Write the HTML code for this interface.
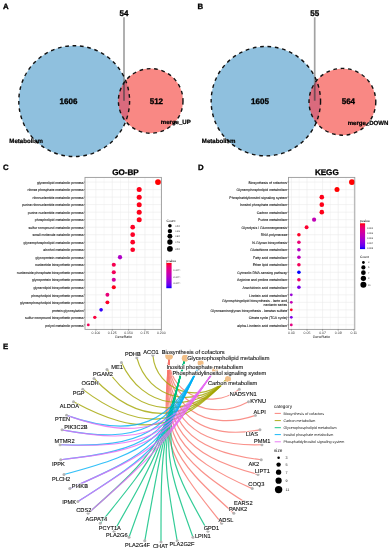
<!DOCTYPE html>
<html><head><meta charset="utf-8"><title>Figure</title>
<style>html,body{margin:0;padding:0;background:#fff;}svg{display:block;filter:blur(0.25px);}</style></head>
<body><svg width="391" height="550" viewBox="0 0 391 550" font-family="Liberation Sans, Arial, sans-serif" text-rendering="geometricPrecision">
<rect width="391" height="550" fill="#fff"/>
<text x="2.90" y="8.80" font-size="7.8" font-weight="bold" text-anchor="start" fill="#000" stroke="#000" stroke-width="0.32">A</text>
<text x="197.60" y="8.70" font-size="7.8" font-weight="bold" text-anchor="start" fill="#000" stroke="#000" stroke-width="0.32">B</text>
<text x="2.90" y="170.30" font-size="7.8" font-weight="bold" text-anchor="start" fill="#000" stroke="#000" stroke-width="0.32">C</text>
<text x="197.90" y="170.30" font-size="7.8" font-weight="bold" text-anchor="start" fill="#000" stroke="#000" stroke-width="0.32">D</text>
<text x="3.00" y="349.20" font-size="7.8" font-weight="bold" text-anchor="start" fill="#000" stroke="#000" stroke-width="0.32">E</text>
<clipPath id="clipA"><circle cx="74.2" cy="101.1" r="55.4"/></clipPath>
<clipPath id="clipLA"><circle cx="150.7" cy="100.9" r="32.3" clip-path="url(#clipA)"/></clipPath>
<circle cx="74.2" cy="101.1" r="55.4" fill="#8fc0de"/>
<circle cx="150.7" cy="100.9" r="32.3" fill="#f98884"/>
<circle cx="150.7" cy="100.9" r="32.3" fill="#da6a7d" clip-path="url(#clipA)"/>
<line x1="124" y1="17.3" x2="124" y2="100.7" stroke="#7a7a7a" stroke-opacity="0.7" stroke-width="1.7"/>
<line x1="124" y1="17.3" x2="124" y2="100.7" stroke="#5a2030" stroke-opacity="0.5" stroke-width="1.7" clip-path="url(#clipLA)"/>
<circle cx="74.2" cy="101.1" r="55.4" fill="none" stroke="#111" stroke-width="1.4" stroke-dasharray="3.7 3.7"/>
<circle cx="150.7" cy="100.9" r="32.3" fill="none" stroke="#111" stroke-width="1.4" stroke-dasharray="3.7 3.7"/>
<text x="124.00" y="16.10" font-size="8" font-weight="bold" text-anchor="middle" fill="#000" stroke="#000" stroke-width="0.32">54</text>
<text x="68.50" y="104.00" font-size="8" font-weight="bold" text-anchor="middle" fill="#000" stroke="#000" stroke-width="0.32">1606</text>
<text x="156.40" y="104.00" font-size="8" font-weight="bold" text-anchor="middle" fill="#000" stroke="#000" stroke-width="0.32">512</text>
<text x="175.80" y="124.00" font-size="6.05" font-weight="bold" text-anchor="middle" fill="#000" stroke="#000" stroke-width="0.22">merge_UP</text>
<text x="26.10" y="143.00" font-size="6.1" font-weight="bold" text-anchor="middle" fill="#000" stroke="#000" stroke-width="0.22">Metabolism</text>
<clipPath id="clipB"><circle cx="265.85" cy="101.2" r="54.7"/></clipPath>
<clipPath id="clipLB"><circle cx="342.4" cy="101.8" r="33.4" clip-path="url(#clipB)"/></clipPath>
<circle cx="265.85" cy="101.2" r="54.7" fill="#8fc0de"/>
<circle cx="342.4" cy="101.8" r="33.4" fill="#f98884"/>
<circle cx="342.4" cy="101.8" r="33.4" fill="#da6a7d" clip-path="url(#clipB)"/>
<line x1="314.7" y1="17.3" x2="314.7" y2="100.7" stroke="#7a7a7a" stroke-opacity="0.7" stroke-width="1.7"/>
<line x1="314.7" y1="17.3" x2="314.7" y2="100.7" stroke="#5a2030" stroke-opacity="0.5" stroke-width="1.7" clip-path="url(#clipLB)"/>
<circle cx="265.85" cy="101.2" r="54.7" fill="none" stroke="#111" stroke-width="1.4" stroke-dasharray="3.7 3.7"/>
<circle cx="342.4" cy="101.8" r="33.4" fill="none" stroke="#111" stroke-width="1.4" stroke-dasharray="3.7 3.7"/>
<text x="314.70" y="16.10" font-size="8" font-weight="bold" text-anchor="middle" fill="#000" stroke="#000" stroke-width="0.32">55</text>
<text x="260.00" y="104.00" font-size="8" font-weight="bold" text-anchor="middle" fill="#000" stroke="#000" stroke-width="0.32">1605</text>
<text x="348.40" y="104.00" font-size="8" font-weight="bold" text-anchor="middle" fill="#000" stroke="#000" stroke-width="0.32">564</text>
<text x="368.00" y="124.60" font-size="6.05" font-weight="bold" text-anchor="middle" fill="#000" stroke="#000" stroke-width="0.22">merge_DOWN</text>
<text x="218.60" y="143.00" font-size="6.1" font-weight="bold" text-anchor="middle" fill="#000" stroke="#000" stroke-width="0.22">Metabolism</text>
<rect x="85.0" y="177.4" width="76.4" height="151.99999999999997" fill="#fff"/>
<line x1="87.72" y1="177.4" x2="87.72" y2="329.4" stroke="#ebebeb" stroke-width="0.35"/>
<line x1="104.08" y1="177.4" x2="104.08" y2="329.4" stroke="#ebebeb" stroke-width="0.35"/>
<line x1="120.43" y1="177.4" x2="120.43" y2="329.4" stroke="#ebebeb" stroke-width="0.35"/>
<line x1="136.78" y1="177.4" x2="136.78" y2="329.4" stroke="#ebebeb" stroke-width="0.35"/>
<line x1="153.12" y1="177.4" x2="153.12" y2="329.4" stroke="#ebebeb" stroke-width="0.35"/>
<line x1="95.90" y1="177.4" x2="95.90" y2="329.4" stroke="#ebebeb" stroke-width="0.6"/>
<line x1="112.25" y1="177.4" x2="112.25" y2="329.4" stroke="#ebebeb" stroke-width="0.6"/>
<line x1="128.60" y1="177.4" x2="128.60" y2="329.4" stroke="#ebebeb" stroke-width="0.6"/>
<line x1="144.95" y1="177.4" x2="144.95" y2="329.4" stroke="#ebebeb" stroke-width="0.6"/>
<line x1="161.30" y1="177.4" x2="161.30" y2="329.4" stroke="#ebebeb" stroke-width="0.6"/>
<line x1="85.0" y1="182.10" x2="161.4" y2="182.10" stroke="#ebebeb" stroke-width="0.6"/>
<line x1="85.0" y1="189.61" x2="161.4" y2="189.61" stroke="#ebebeb" stroke-width="0.6"/>
<line x1="85.0" y1="197.13" x2="161.4" y2="197.13" stroke="#ebebeb" stroke-width="0.6"/>
<line x1="85.0" y1="204.64" x2="161.4" y2="204.64" stroke="#ebebeb" stroke-width="0.6"/>
<line x1="85.0" y1="212.16" x2="161.4" y2="212.16" stroke="#ebebeb" stroke-width="0.6"/>
<line x1="85.0" y1="219.67" x2="161.4" y2="219.67" stroke="#ebebeb" stroke-width="0.6"/>
<line x1="85.0" y1="227.19" x2="161.4" y2="227.19" stroke="#ebebeb" stroke-width="0.6"/>
<line x1="85.0" y1="234.70" x2="161.4" y2="234.70" stroke="#ebebeb" stroke-width="0.6"/>
<line x1="85.0" y1="242.22" x2="161.4" y2="242.22" stroke="#ebebeb" stroke-width="0.6"/>
<line x1="85.0" y1="249.73" x2="161.4" y2="249.73" stroke="#ebebeb" stroke-width="0.6"/>
<line x1="85.0" y1="257.25" x2="161.4" y2="257.25" stroke="#ebebeb" stroke-width="0.6"/>
<line x1="85.0" y1="264.76" x2="161.4" y2="264.76" stroke="#ebebeb" stroke-width="0.6"/>
<line x1="85.0" y1="272.28" x2="161.4" y2="272.28" stroke="#ebebeb" stroke-width="0.6"/>
<line x1="85.0" y1="279.79" x2="161.4" y2="279.79" stroke="#ebebeb" stroke-width="0.6"/>
<line x1="85.0" y1="287.31" x2="161.4" y2="287.31" stroke="#ebebeb" stroke-width="0.6"/>
<line x1="85.0" y1="294.82" x2="161.4" y2="294.82" stroke="#ebebeb" stroke-width="0.6"/>
<line x1="85.0" y1="302.34" x2="161.4" y2="302.34" stroke="#ebebeb" stroke-width="0.6"/>
<line x1="85.0" y1="309.86" x2="161.4" y2="309.86" stroke="#ebebeb" stroke-width="0.6"/>
<line x1="85.0" y1="317.37" x2="161.4" y2="317.37" stroke="#ebebeb" stroke-width="0.6"/>
<line x1="85.0" y1="324.88" x2="161.4" y2="324.88" stroke="#ebebeb" stroke-width="0.6"/>
<circle cx="158.0" cy="182.10" r="2.90" fill="#ff0000"/>
<circle cx="139.2" cy="189.61" r="2.50" fill="#fe0019"/>
<circle cx="139.2" cy="197.13" r="2.50" fill="#fe0019"/>
<circle cx="139.2" cy="204.64" r="2.50" fill="#fe0019"/>
<circle cx="139.2" cy="212.16" r="2.50" fill="#fe0019"/>
<circle cx="139.2" cy="219.67" r="2.50" fill="#fe0019"/>
<circle cx="132.7" cy="227.19" r="2.35" fill="#fd0027"/>
<circle cx="132.7" cy="234.70" r="2.35" fill="#fd0027"/>
<circle cx="132.7" cy="242.22" r="2.35" fill="#fd0027"/>
<circle cx="132.7" cy="249.73" r="2.35" fill="#fd0027"/>
<circle cx="120.0" cy="257.25" r="2.15" fill="#af00c7"/>
<circle cx="113.8" cy="264.76" r="2.05" fill="#f60050"/>
<circle cx="113.8" cy="272.28" r="2.05" fill="#f30059"/>
<circle cx="113.8" cy="279.79" r="2.05" fill="#d300a0"/>
<circle cx="113.8" cy="287.31" r="2.05" fill="#fe0019"/>
<circle cx="107.4" cy="294.82" r="1.95" fill="#e80079"/>
<circle cx="107.4" cy="302.34" r="1.95" fill="#fd0027"/>
<circle cx="101.1" cy="309.86" r="1.80" fill="#3000fc"/>
<circle cx="94.8" cy="317.37" r="1.70" fill="#fa003c"/>
<circle cx="88.3" cy="324.88" r="1.40" fill="#f30059"/>
<rect x="85.0" y="177.4" width="76.4" height="151.99999999999997" fill="none" stroke="#999" stroke-width="0.9"/>
<line x1="83.7" y1="182.10" x2="85.0" y2="182.10" stroke="#333" stroke-width="0.45"/>
<text x="83.60" y="183.80" font-size="3.5" text-anchor="end" fill="#333" stroke="#333" stroke-width="0.12">glycerolipid metabolic process</text>
<line x1="83.7" y1="189.61" x2="85.0" y2="189.61" stroke="#333" stroke-width="0.45"/>
<text x="83.60" y="191.31" font-size="3.5" text-anchor="end" fill="#333" stroke="#333" stroke-width="0.12">ribose phosphate metabolic process</text>
<line x1="83.7" y1="197.13" x2="85.0" y2="197.13" stroke="#333" stroke-width="0.45"/>
<text x="83.60" y="198.83" font-size="3.5" text-anchor="end" fill="#333" stroke="#333" stroke-width="0.12">ribonucleotide metabolic process</text>
<line x1="83.7" y1="204.64" x2="85.0" y2="204.64" stroke="#333" stroke-width="0.45"/>
<text x="83.60" y="206.34" font-size="3.5" text-anchor="end" fill="#333" stroke="#333" stroke-width="0.12">purine ribonucleotide metabolic process</text>
<line x1="83.7" y1="212.16" x2="85.0" y2="212.16" stroke="#333" stroke-width="0.45"/>
<text x="83.60" y="213.86" font-size="3.5" text-anchor="end" fill="#333" stroke="#333" stroke-width="0.12">purine nucleotide metabolic process</text>
<line x1="83.7" y1="219.67" x2="85.0" y2="219.67" stroke="#333" stroke-width="0.45"/>
<text x="83.60" y="221.37" font-size="3.5" text-anchor="end" fill="#333" stroke="#333" stroke-width="0.12">phospholipid metabolic process</text>
<line x1="83.7" y1="227.19" x2="85.0" y2="227.19" stroke="#333" stroke-width="0.45"/>
<text x="83.60" y="228.89" font-size="3.5" text-anchor="end" fill="#333" stroke="#333" stroke-width="0.12">sulfur compound metabolic process</text>
<line x1="83.7" y1="234.70" x2="85.0" y2="234.70" stroke="#333" stroke-width="0.45"/>
<text x="83.60" y="236.40" font-size="3.5" text-anchor="end" fill="#333" stroke="#333" stroke-width="0.12">small molecule catabolic process</text>
<line x1="83.7" y1="242.22" x2="85.0" y2="242.22" stroke="#333" stroke-width="0.45"/>
<text x="83.60" y="243.92" font-size="3.5" text-anchor="end" fill="#333" stroke="#333" stroke-width="0.12">glycerophospholipid metabolic process</text>
<line x1="83.7" y1="249.73" x2="85.0" y2="249.73" stroke="#333" stroke-width="0.45"/>
<text x="83.60" y="251.43" font-size="3.5" text-anchor="end" fill="#333" stroke="#333" stroke-width="0.12">alcohol metabolic process</text>
<line x1="83.7" y1="257.25" x2="85.0" y2="257.25" stroke="#333" stroke-width="0.45"/>
<text x="83.60" y="258.95" font-size="3.5" text-anchor="end" fill="#333" stroke="#333" stroke-width="0.12">glycoprotein metabolic process</text>
<line x1="83.7" y1="264.76" x2="85.0" y2="264.76" stroke="#333" stroke-width="0.45"/>
<text x="83.60" y="266.46" font-size="3.5" text-anchor="end" fill="#333" stroke="#333" stroke-width="0.12">nucleotide biosynthetic process</text>
<line x1="83.7" y1="272.28" x2="85.0" y2="272.28" stroke="#333" stroke-width="0.45"/>
<text x="83.60" y="273.98" font-size="3.5" text-anchor="end" fill="#333" stroke="#333" stroke-width="0.12">nucleoside phosphate biosynthetic process</text>
<line x1="83.7" y1="279.79" x2="85.0" y2="279.79" stroke="#333" stroke-width="0.45"/>
<text x="83.60" y="281.49" font-size="3.5" text-anchor="end" fill="#333" stroke="#333" stroke-width="0.12">glycoprotein biosynthetic process</text>
<line x1="83.7" y1="287.31" x2="85.0" y2="287.31" stroke="#333" stroke-width="0.45"/>
<text x="83.60" y="289.01" font-size="3.5" text-anchor="end" fill="#333" stroke="#333" stroke-width="0.12">glycerolipid biosynthetic process</text>
<line x1="83.7" y1="294.82" x2="85.0" y2="294.82" stroke="#333" stroke-width="0.45"/>
<text x="83.60" y="296.52" font-size="3.5" text-anchor="end" fill="#333" stroke="#333" stroke-width="0.12">phospholipid biosynthetic process</text>
<line x1="83.7" y1="302.34" x2="85.0" y2="302.34" stroke="#333" stroke-width="0.45"/>
<text x="83.60" y="304.04" font-size="3.5" text-anchor="end" fill="#333" stroke="#333" stroke-width="0.12">glycerophospholipid biosynthetic process</text>
<line x1="83.7" y1="309.86" x2="85.0" y2="309.86" stroke="#333" stroke-width="0.45"/>
<text x="83.60" y="311.56" font-size="3.5" text-anchor="end" fill="#333" stroke="#333" stroke-width="0.12">protein glycosylation</text>
<line x1="83.7" y1="317.37" x2="85.0" y2="317.37" stroke="#333" stroke-width="0.45"/>
<text x="83.60" y="319.07" font-size="3.5" text-anchor="end" fill="#333" stroke="#333" stroke-width="0.12">sulfur compound biosynthetic process</text>
<line x1="83.7" y1="324.88" x2="85.0" y2="324.88" stroke="#333" stroke-width="0.45"/>
<text x="83.60" y="326.58" font-size="3.5" text-anchor="end" fill="#333" stroke="#333" stroke-width="0.12">polyol metabolic process</text>
<line x1="95.90" y1="329.4" x2="95.90" y2="330.79999999999995" stroke="#333" stroke-width="0.4"/>
<text x="95.90" y="333.80" font-size="3.5" text-anchor="middle" fill="#333">0.100</text>
<line x1="112.25" y1="329.4" x2="112.25" y2="330.79999999999995" stroke="#333" stroke-width="0.4"/>
<text x="112.25" y="333.80" font-size="3.5" text-anchor="middle" fill="#333">0.125</text>
<line x1="128.60" y1="329.4" x2="128.60" y2="330.79999999999995" stroke="#333" stroke-width="0.4"/>
<text x="128.60" y="333.80" font-size="3.5" text-anchor="middle" fill="#333">0.150</text>
<line x1="144.95" y1="329.4" x2="144.95" y2="330.79999999999995" stroke="#333" stroke-width="0.4"/>
<text x="144.95" y="333.80" font-size="3.5" text-anchor="middle" fill="#333">0.175</text>
<line x1="161.30" y1="329.4" x2="161.30" y2="330.79999999999995" stroke="#333" stroke-width="0.4"/>
<text x="161.30" y="333.80" font-size="3.5" text-anchor="middle" fill="#333">0.200</text>
<text x="123.50" y="337.50" font-size="3.6" text-anchor="middle" fill="#111">GeneRatio</text>
<text x="125.50" y="174.60" font-size="8.1" font-weight="bold" text-anchor="middle" fill="#000" stroke="#000" stroke-width="0.32">GO-BP</text>
<rect x="288.5" y="177.4" width="66.30000000000001" height="151.99999999999997" fill="#fff"/>
<line x1="299.20" y1="177.4" x2="299.20" y2="329.4" stroke="#ebebeb" stroke-width="0.35"/>
<line x1="314.80" y1="177.4" x2="314.80" y2="329.4" stroke="#ebebeb" stroke-width="0.35"/>
<line x1="330.40" y1="177.4" x2="330.40" y2="329.4" stroke="#ebebeb" stroke-width="0.35"/>
<line x1="346.00" y1="177.4" x2="346.00" y2="329.4" stroke="#ebebeb" stroke-width="0.35"/>
<line x1="291.40" y1="177.4" x2="291.40" y2="329.4" stroke="#ebebeb" stroke-width="0.6"/>
<line x1="307.00" y1="177.4" x2="307.00" y2="329.4" stroke="#ebebeb" stroke-width="0.6"/>
<line x1="322.60" y1="177.4" x2="322.60" y2="329.4" stroke="#ebebeb" stroke-width="0.6"/>
<line x1="338.20" y1="177.4" x2="338.20" y2="329.4" stroke="#ebebeb" stroke-width="0.6"/>
<line x1="353.80" y1="177.4" x2="353.80" y2="329.4" stroke="#ebebeb" stroke-width="0.6"/>
<line x1="288.5" y1="182.10" x2="354.8" y2="182.10" stroke="#ebebeb" stroke-width="0.6"/>
<line x1="288.5" y1="189.61" x2="354.8" y2="189.61" stroke="#ebebeb" stroke-width="0.6"/>
<line x1="288.5" y1="197.13" x2="354.8" y2="197.13" stroke="#ebebeb" stroke-width="0.6"/>
<line x1="288.5" y1="204.64" x2="354.8" y2="204.64" stroke="#ebebeb" stroke-width="0.6"/>
<line x1="288.5" y1="212.16" x2="354.8" y2="212.16" stroke="#ebebeb" stroke-width="0.6"/>
<line x1="288.5" y1="219.67" x2="354.8" y2="219.67" stroke="#ebebeb" stroke-width="0.6"/>
<line x1="288.5" y1="227.19" x2="354.8" y2="227.19" stroke="#ebebeb" stroke-width="0.6"/>
<line x1="288.5" y1="234.70" x2="354.8" y2="234.70" stroke="#ebebeb" stroke-width="0.6"/>
<line x1="288.5" y1="242.22" x2="354.8" y2="242.22" stroke="#ebebeb" stroke-width="0.6"/>
<line x1="288.5" y1="249.73" x2="354.8" y2="249.73" stroke="#ebebeb" stroke-width="0.6"/>
<line x1="288.5" y1="257.25" x2="354.8" y2="257.25" stroke="#ebebeb" stroke-width="0.6"/>
<line x1="288.5" y1="264.76" x2="354.8" y2="264.76" stroke="#ebebeb" stroke-width="0.6"/>
<line x1="288.5" y1="272.28" x2="354.8" y2="272.28" stroke="#ebebeb" stroke-width="0.6"/>
<line x1="288.5" y1="279.79" x2="354.8" y2="279.79" stroke="#ebebeb" stroke-width="0.6"/>
<line x1="288.5" y1="287.31" x2="354.8" y2="287.31" stroke="#ebebeb" stroke-width="0.6"/>
<line x1="288.5" y1="294.82" x2="354.8" y2="294.82" stroke="#ebebeb" stroke-width="0.6"/>
<line x1="288.5" y1="302.34" x2="354.8" y2="302.34" stroke="#ebebeb" stroke-width="0.6"/>
<line x1="288.5" y1="309.86" x2="354.8" y2="309.86" stroke="#ebebeb" stroke-width="0.6"/>
<line x1="288.5" y1="317.37" x2="354.8" y2="317.37" stroke="#ebebeb" stroke-width="0.6"/>
<line x1="288.5" y1="324.88" x2="354.8" y2="324.88" stroke="#ebebeb" stroke-width="0.6"/>
<circle cx="351.9" cy="182.10" r="2.90" fill="#ff0000"/>
<circle cx="337.0" cy="189.61" r="2.50" fill="#ff0000"/>
<circle cx="321.8" cy="197.13" r="2.30" fill="#fe0019"/>
<circle cx="321.8" cy="204.64" r="2.30" fill="#fe0019"/>
<circle cx="321.8" cy="212.16" r="2.30" fill="#fe0019"/>
<circle cx="314.1" cy="219.67" r="2.10" fill="#c000b6"/>
<circle cx="306.6" cy="227.19" r="1.95" fill="#fc0030"/>
<circle cx="298.9" cy="234.70" r="1.80" fill="#fd0027"/>
<circle cx="298.9" cy="242.22" r="1.80" fill="#ea0076"/>
<circle cx="298.9" cy="249.73" r="1.80" fill="#b300c4"/>
<circle cx="298.9" cy="257.25" r="1.80" fill="#bc00bc"/>
<circle cx="298.9" cy="264.76" r="1.80" fill="#f30059"/>
<circle cx="298.9" cy="272.28" r="1.80" fill="#0000ff"/>
<circle cx="298.9" cy="279.79" r="1.80" fill="#f00065"/>
<circle cx="298.9" cy="287.31" r="1.80" fill="#7c00e7"/>
<circle cx="291.3" cy="294.82" r="1.40" fill="#9900d7"/>
<circle cx="291.3" cy="302.34" r="1.40" fill="#c400b3"/>
<circle cx="291.3" cy="309.86" r="1.40" fill="#fd0027"/>
<circle cx="291.3" cy="317.37" r="1.40" fill="#7c00e7"/>
<circle cx="291.3" cy="324.88" r="1.40" fill="#e50081"/>
<rect x="288.5" y="177.4" width="66.30000000000001" height="151.99999999999997" fill="none" stroke="#999" stroke-width="0.9"/>
<line x1="287.2" y1="182.10" x2="288.5" y2="182.10" stroke="#333" stroke-width="0.45"/>
<text x="287.10" y="183.80" font-size="3.5" text-anchor="end" fill="#333" stroke="#333" stroke-width="0.12">Biosynthesis of cofactors</text>
<line x1="287.2" y1="189.61" x2="288.5" y2="189.61" stroke="#333" stroke-width="0.45"/>
<text x="287.10" y="191.31" font-size="3.5" text-anchor="end" fill="#333" stroke="#333" stroke-width="0.12">Glycerophospholipid metabolism</text>
<line x1="287.2" y1="197.13" x2="288.5" y2="197.13" stroke="#333" stroke-width="0.45"/>
<text x="287.10" y="198.83" font-size="3.5" text-anchor="end" fill="#333" stroke="#333" stroke-width="0.12">Phosphatidylinositol signaling system</text>
<line x1="287.2" y1="204.64" x2="288.5" y2="204.64" stroke="#333" stroke-width="0.45"/>
<text x="287.10" y="206.34" font-size="3.5" text-anchor="end" fill="#333" stroke="#333" stroke-width="0.12">Inositol phosphate metabolism</text>
<line x1="287.2" y1="212.16" x2="288.5" y2="212.16" stroke="#333" stroke-width="0.45"/>
<text x="287.10" y="213.86" font-size="3.5" text-anchor="end" fill="#333" stroke="#333" stroke-width="0.12">Carbon metabolism</text>
<line x1="287.2" y1="219.67" x2="288.5" y2="219.67" stroke="#333" stroke-width="0.45"/>
<text x="287.10" y="221.37" font-size="3.5" text-anchor="end" fill="#333" stroke="#333" stroke-width="0.12">Purine metabolism</text>
<line x1="287.2" y1="227.19" x2="288.5" y2="227.19" stroke="#333" stroke-width="0.45"/>
<text x="287.10" y="228.89" font-size="3.5" text-anchor="end" fill="#333" stroke="#333" stroke-width="0.12">Glycolysis / Gluconeogenesis</text>
<line x1="287.2" y1="234.70" x2="288.5" y2="234.70" stroke="#333" stroke-width="0.45"/>
<text x="287.10" y="236.40" font-size="3.5" text-anchor="end" fill="#333" stroke="#333" stroke-width="0.12">RNA polymerase</text>
<line x1="287.2" y1="242.22" x2="288.5" y2="242.22" stroke="#333" stroke-width="0.45"/>
<text x="287.10" y="243.92" font-size="3.5" text-anchor="end" fill="#333" stroke="#333" stroke-width="0.12">N-Glycan biosynthesis</text>
<line x1="287.2" y1="249.73" x2="288.5" y2="249.73" stroke="#333" stroke-width="0.45"/>
<text x="287.10" y="251.43" font-size="3.5" text-anchor="end" fill="#333" stroke="#333" stroke-width="0.12">Glutathione metabolism</text>
<line x1="287.2" y1="257.25" x2="288.5" y2="257.25" stroke="#333" stroke-width="0.45"/>
<text x="287.10" y="258.95" font-size="3.5" text-anchor="end" fill="#333" stroke="#333" stroke-width="0.12">Fatty acid metabolism</text>
<line x1="287.2" y1="264.76" x2="288.5" y2="264.76" stroke="#333" stroke-width="0.45"/>
<text x="287.10" y="266.46" font-size="3.5" text-anchor="end" fill="#333" stroke="#333" stroke-width="0.12">Ether lipid metabolism</text>
<line x1="287.2" y1="272.28" x2="288.5" y2="272.28" stroke="#333" stroke-width="0.45"/>
<text x="287.10" y="273.98" font-size="3.5" text-anchor="end" fill="#333" stroke="#333" stroke-width="0.12">Cytosolic DNA-sensing pathway</text>
<line x1="287.2" y1="279.79" x2="288.5" y2="279.79" stroke="#333" stroke-width="0.45"/>
<text x="287.10" y="281.49" font-size="3.5" text-anchor="end" fill="#333" stroke="#333" stroke-width="0.12">Arginine and proline metabolism</text>
<line x1="287.2" y1="287.31" x2="288.5" y2="287.31" stroke="#333" stroke-width="0.45"/>
<text x="287.10" y="289.01" font-size="3.5" text-anchor="end" fill="#333" stroke="#333" stroke-width="0.12">Arachidonic acid metabolism</text>
<line x1="287.2" y1="294.82" x2="288.5" y2="294.82" stroke="#333" stroke-width="0.45"/>
<text x="287.10" y="296.52" font-size="3.5" text-anchor="end" fill="#333" stroke="#333" stroke-width="0.12">Linoleic acid metabolism</text>
<line x1="287.2" y1="302.34" x2="288.5" y2="302.34" stroke="#333" stroke-width="0.45"/>
<text x="287.10" y="301.94" font-size="3.5" text-anchor="end" fill="#333" stroke="#333" stroke-width="0.12">Glycosphingolipid biosynthesis - lacto and</text>
<text x="287.10" y="306.04" font-size="3.5" text-anchor="end" fill="#333" stroke="#333" stroke-width="0.12">neolacto series</text>
<line x1="287.2" y1="309.86" x2="288.5" y2="309.86" stroke="#333" stroke-width="0.45"/>
<text x="287.10" y="311.56" font-size="3.5" text-anchor="end" fill="#333" stroke="#333" stroke-width="0.12">Glycosaminoglycan biosynthesis - keratan sulfate</text>
<line x1="287.2" y1="317.37" x2="288.5" y2="317.37" stroke="#333" stroke-width="0.45"/>
<text x="287.10" y="319.07" font-size="3.5" text-anchor="end" fill="#333" stroke="#333" stroke-width="0.12">Citrate cycle (TCA cycle)</text>
<line x1="287.2" y1="324.88" x2="288.5" y2="324.88" stroke="#333" stroke-width="0.45"/>
<text x="287.10" y="326.58" font-size="3.5" text-anchor="end" fill="#333" stroke="#333" stroke-width="0.12">alpha-Linolenic acid metabolism</text>
<line x1="291.40" y1="329.4" x2="291.40" y2="330.79999999999995" stroke="#333" stroke-width="0.4"/>
<text x="291.40" y="333.80" font-size="3.5" text-anchor="middle" fill="#333">0.03</text>
<line x1="307.00" y1="329.4" x2="307.00" y2="330.79999999999995" stroke="#333" stroke-width="0.4"/>
<text x="307.00" y="333.80" font-size="3.5" text-anchor="middle" fill="#333">0.05</text>
<line x1="322.60" y1="329.4" x2="322.60" y2="330.79999999999995" stroke="#333" stroke-width="0.4"/>
<text x="322.60" y="333.80" font-size="3.5" text-anchor="middle" fill="#333">0.07</text>
<line x1="338.20" y1="329.4" x2="338.20" y2="330.79999999999995" stroke="#333" stroke-width="0.4"/>
<text x="338.20" y="333.80" font-size="3.5" text-anchor="middle" fill="#333">0.09</text>
<line x1="353.80" y1="329.4" x2="353.80" y2="330.79999999999995" stroke="#333" stroke-width="0.4"/>
<text x="353.80" y="333.80" font-size="3.5" text-anchor="middle" fill="#333">0.11</text>
<text x="321.40" y="337.50" font-size="3.6" text-anchor="middle" fill="#111">GeneRatio</text>
<text x="326.80" y="174.60" font-size="8.1" font-weight="bold" text-anchor="middle" fill="#000" stroke="#000" stroke-width="0.32">KEGG</text>
<text x="166.50" y="221.70" font-size="3.3" text-anchor="start" fill="#111">Count</text>
<circle cx="169.9" cy="225.7" r="1.8" fill="#000"/>
<text x="175.30" y="226.55" font-size="2.4" text-anchor="start" fill="#333">10.0</text>
<circle cx="169.9" cy="231.1" r="2.2" fill="#000"/>
<text x="175.30" y="231.95" font-size="2.4" text-anchor="start" fill="#333">12.5</text>
<circle cx="169.9" cy="236.2" r="2.45" fill="#000"/>
<text x="175.30" y="237.05" font-size="2.4" text-anchor="start" fill="#333">15.0</text>
<circle cx="169.9" cy="242.0" r="2.65" fill="#000"/>
<text x="175.30" y="242.85" font-size="2.4" text-anchor="start" fill="#333">17.5</text>
<circle cx="169.9" cy="248.8" r="2.9" fill="#000"/>
<text x="175.30" y="249.65" font-size="2.4" text-anchor="start" fill="#333">20.0</text>
<text x="166.30" y="261.50" font-size="3.3" text-anchor="start" fill="#111">pvalue</text>
<linearGradient id="cbgo" x1="0" y1="0" x2="0" y2="1"><stop offset="0.0" stop-color="#ff0000"/><stop offset="0.1" stop-color="#f30059"/><stop offset="0.2" stop-color="#e7007c"/><stop offset="0.3" stop-color="#da0095"/><stop offset="0.4" stop-color="#cb00aa"/><stop offset="0.5" stop-color="#bc00bc"/><stop offset="0.6" stop-color="#aa00cb"/><stop offset="0.7" stop-color="#9500da"/><stop offset="0.8" stop-color="#7c00e7"/><stop offset="0.9" stop-color="#5900f3"/><stop offset="1.0" stop-color="#0000ff"/></linearGradient>
<rect x="166.3" y="262.9" width="5.299999999999983" height="25.30000000000001" fill="url(#cbgo)"/>
<text x="173.20" y="270.55" font-size="2.4" text-anchor="start" fill="#333">1×10⁻⁵</text>
<text x="173.20" y="277.55" font-size="2.4" text-anchor="start" fill="#333">2×10⁻⁵</text>
<text x="173.20" y="284.45" font-size="2.4" text-anchor="start" fill="#333">3×10⁻⁵</text>
<text x="360.00" y="221.60" font-size="3.3" text-anchor="start" fill="#111">pvalue</text>
<linearGradient id="cbkg" x1="0" y1="0" x2="0" y2="1"><stop offset="0.0" stop-color="#ff0000"/><stop offset="0.1" stop-color="#f30059"/><stop offset="0.2" stop-color="#e7007c"/><stop offset="0.3" stop-color="#da0095"/><stop offset="0.4" stop-color="#cb00aa"/><stop offset="0.5" stop-color="#bc00bc"/><stop offset="0.6" stop-color="#aa00cb"/><stop offset="0.7" stop-color="#9500da"/><stop offset="0.8" stop-color="#7c00e7"/><stop offset="0.9" stop-color="#5900f3"/><stop offset="1.0" stop-color="#0000ff"/></linearGradient>
<rect x="360.0" y="223.3" width="5.100000000000023" height="25.799999999999983" fill="url(#cbkg)"/>
<text x="366.90" y="229.05" font-size="2.5" text-anchor="start" fill="#333">0.001</text>
<text x="366.90" y="233.95" font-size="2.5" text-anchor="start" fill="#333">0.002</text>
<text x="366.90" y="239.05" font-size="2.5" text-anchor="start" fill="#333">0.003</text>
<text x="366.90" y="243.95" font-size="2.5" text-anchor="start" fill="#333">0.004</text>
<text x="366.90" y="248.65" font-size="2.5" text-anchor="start" fill="#333">0.005</text>
<text x="360.10" y="258.10" font-size="3.3" text-anchor="start" fill="#111">Count</text>
<circle cx="363.4" cy="262.5" r="1.4" fill="#000"/>
<text x="368.00" y="263.35" font-size="2.5" text-anchor="start" fill="#333">3</text>
<circle cx="363.4" cy="267.4" r="2.1" fill="#000"/>
<text x="368.00" y="268.25" font-size="2.5" text-anchor="start" fill="#333">5</text>
<circle cx="363.4" cy="272.7" r="2.35" fill="#000"/>
<text x="368.00" y="273.55" font-size="2.5" text-anchor="start" fill="#333">7</text>
<circle cx="363.4" cy="278.3" r="2.65" fill="#000"/>
<text x="368.00" y="279.15" font-size="2.5" text-anchor="start" fill="#333">9</text>
<circle cx="363.4" cy="284.7" r="3.0" fill="#000"/>
<text x="368.00" y="285.55" font-size="2.5" text-anchor="start" fill="#333">11</text>
<path d="M169.13 355.30 C165.94 391.83 208.57 412.54 239.24 389.37" fill="none" stroke="#F8766D" stroke-width="1.2" stroke-opacity="0.8"/>
<path d="M169.13 355.30 C165.35 398.61 207.82 423.48 248.47 401.75" fill="none" stroke="#F8766D" stroke-width="1.2" stroke-opacity="0.8"/>
<path d="M169.13 355.30 C164.78 405.11 204.96 433.06 255.44 415.34" fill="none" stroke="#F8766D" stroke-width="1.2" stroke-opacity="0.8"/>
<path d="M169.13 355.30 C164.24 411.29 200.51 441.03 259.96 429.80" fill="none" stroke="#F8766D" stroke-width="1.2" stroke-opacity="0.8"/>
<path d="M169.13 355.30 C163.74 417.10 195.00 447.23 261.92 444.74" fill="none" stroke="#F8766D" stroke-width="1.2" stroke-opacity="0.8"/>
<path d="M169.13 355.30 C163.27 422.52 188.95 451.64 261.26 459.77" fill="none" stroke="#F8766D" stroke-width="1.2" stroke-opacity="0.8"/>
<path d="M169.13 355.30 C162.83 427.49 182.87 454.36 258.01 474.51" fill="none" stroke="#F8766D" stroke-width="1.2" stroke-opacity="0.8"/>
<path d="M169.13 355.30 C162.44 432.00 177.15 455.60 252.25 488.58" fill="none" stroke="#F8766D" stroke-width="1.2" stroke-opacity="0.8"/>
<path d="M169.13 355.30 C162.09 436.01 172.14 455.62 244.12 501.61" fill="none" stroke="#F8766D" stroke-width="1.2" stroke-opacity="0.8"/>
<path d="M169.13 355.30 C161.78 439.50 168.03 454.75 233.84 513.27" fill="none" stroke="#F8766D" stroke-width="1.2" stroke-opacity="0.8"/>
<path d="M169.13 355.30 C161.53 442.44 164.94 453.36 221.67 523.25" fill="none" stroke="#F8766D" stroke-width="1.2" stroke-opacity="0.8"/>
<path d="M227.98 378.51 C176.10 432.73 141.29 437.96 73.53 401.75" fill="none" stroke="#A3A500" stroke-width="1.2" stroke-opacity="0.8"/>
<path d="M227.98 378.51 C179.67 428.99 139.19 432.01 82.76 389.37" fill="none" stroke="#A3A500" stroke-width="1.2" stroke-opacity="0.8"/>
<path d="M227.98 378.51 C183.56 424.92 138.44 424.92 94.02 378.51" fill="none" stroke="#A3A500" stroke-width="1.2" stroke-opacity="0.8"/>
<path d="M227.98 378.51 C187.74 420.56 139.45 416.95 107.02 369.47" fill="none" stroke="#A3A500" stroke-width="1.2" stroke-opacity="0.8"/>
<path d="M227.98 378.51 C192.18 415.92 142.57 408.46 121.41 362.48" fill="none" stroke="#A3A500" stroke-width="1.2" stroke-opacity="0.8"/>
<path d="M227.98 378.51 C196.85 411.04 148.06 399.91 136.83 357.72" fill="none" stroke="#A3A500" stroke-width="1.2" stroke-opacity="0.8"/>
<path d="M227.98 378.51 C201.72 405.95 156.06 391.83 152.87 355.30" fill="none" stroke="#A3A500" stroke-width="1.2" stroke-opacity="0.8"/>
<path d="M185.17 357.72 C162.57 442.60 164.05 453.88 207.94 531.29" fill="none" stroke="#00BF7D" stroke-width="1.2" stroke-opacity="0.8"/>
<path d="M185.17 357.72 C161.95 444.92 162.26 452.00 192.98 537.19" fill="none" stroke="#00BF7D" stroke-width="1.2" stroke-opacity="0.8"/>
<path d="M185.17 357.72 C161.49 446.67 161.33 450.37 177.20 540.79" fill="none" stroke="#00BF7D" stroke-width="1.2" stroke-opacity="0.8"/>
<path d="M185.17 357.72 C161.18 447.84 161.00 449.18 161.00 542.00" fill="none" stroke="#00BF7D" stroke-width="1.2" stroke-opacity="0.8"/>
<path d="M185.17 357.72 C161.02 448.43 160.99 448.57 144.80 540.79" fill="none" stroke="#00BF7D" stroke-width="1.2" stroke-opacity="0.8"/>
<path d="M185.17 357.72 C161.02 448.43 160.97 448.57 129.02 537.19" fill="none" stroke="#00BF7D" stroke-width="1.2" stroke-opacity="0.8"/>
<path d="M185.17 357.72 C161.18 447.84 160.66 449.10 114.06 531.29" fill="none" stroke="#00BF7D" stroke-width="1.2" stroke-opacity="0.8"/>
<path d="M185.17 357.72 C161.49 446.67 159.77 450.01 100.33 523.25" fill="none" stroke="#00BF7D" stroke-width="1.2" stroke-opacity="0.8"/>
<path d="M185.17 357.72 C161.95 444.92 158.12 451.06 88.16 513.27" fill="none" stroke="#00BF7D" stroke-width="1.2" stroke-opacity="0.8"/>
<path d="M200.59 362.48 C162.56 445.10 157.72 450.60 77.88 501.61" fill="none" stroke="#00B0F6" stroke-width="1.2" stroke-opacity="0.8"/>
<path d="M200.59 362.48 C163.57 442.91 155.07 451.10 69.75 488.58" fill="none" stroke="#00B0F6" stroke-width="1.2" stroke-opacity="0.8"/>
<path d="M200.59 362.48 C164.82 440.19 151.63 451.01 63.99 474.51" fill="none" stroke="#00B0F6" stroke-width="1.2" stroke-opacity="0.8"/>
<path d="M200.59 362.48 C166.30 436.98 147.57 450.01 60.74 459.77" fill="none" stroke="#00B0F6" stroke-width="1.2" stroke-opacity="0.8"/>
<path d="M200.59 362.48 C168.01 433.27 143.14 447.83 60.08 444.74" fill="none" stroke="#00B0F6" stroke-width="1.2" stroke-opacity="0.8"/>
<path d="M200.59 362.48 C169.92 429.11 138.70 444.28 62.04 429.80" fill="none" stroke="#00B0F6" stroke-width="1.2" stroke-opacity="0.8"/>
<path d="M200.59 362.48 C172.04 424.52 134.67 439.26 66.56 415.34" fill="none" stroke="#00B0F6" stroke-width="1.2" stroke-opacity="0.8"/>
<path d="M214.98 369.47 C161.39 447.92 160.47 448.97 88.16 513.27" fill="none" stroke="#E76BF3" stroke-width="1.2" stroke-opacity="0.8"/>
<path d="M214.98 369.47 C162.09 446.90 159.32 449.57 77.88 501.61" fill="none" stroke="#E76BF3" stroke-width="1.2" stroke-opacity="0.8"/>
<path d="M214.98 369.47 C163.13 445.38 157.40 450.08 69.75 488.58" fill="none" stroke="#E76BF3" stroke-width="1.2" stroke-opacity="0.8"/>
<path d="M214.98 369.47 C166.21 440.87 151.32 449.59 60.74 459.77" fill="none" stroke="#E76BF3" stroke-width="1.2" stroke-opacity="0.8"/>
<path d="M214.98 369.47 C168.23 437.91 147.48 448.00 60.08 444.74" fill="none" stroke="#E76BF3" stroke-width="1.2" stroke-opacity="0.8"/>
<path d="M214.98 369.47 C170.56 434.51 143.48 445.19 62.04 429.80" fill="none" stroke="#E76BF3" stroke-width="1.2" stroke-opacity="0.8"/>
<path d="M214.98 369.47 C173.17 430.69 139.71 441.03 66.56 415.34" fill="none" stroke="#E76BF3" stroke-width="1.2" stroke-opacity="0.8"/>
<circle cx="169.13" cy="355.80" r="3.95" fill="#F2BE86"/>
<circle cx="185.17" cy="358.22" r="3.4" fill="#F2BE86"/>
<circle cx="200.59" cy="362.98" r="3.0" fill="#F2BE86"/>
<circle cx="214.98" cy="369.97" r="3.0" fill="#F2BE86"/>
<circle cx="227.98" cy="379.01" r="3.0" fill="#F2BE86"/>
<circle cx="239.24" cy="389.37" r="1.5" fill="#B3B3B3"/>
<circle cx="248.47" cy="401.75" r="1.5" fill="#B3B3B3"/>
<circle cx="255.44" cy="415.34" r="1.5" fill="#B3B3B3"/>
<circle cx="259.96" cy="429.80" r="1.5" fill="#B3B3B3"/>
<circle cx="261.92" cy="444.74" r="1.5" fill="#B3B3B3"/>
<circle cx="261.26" cy="459.77" r="1.5" fill="#B3B3B3"/>
<circle cx="258.01" cy="474.51" r="1.5" fill="#B3B3B3"/>
<circle cx="252.25" cy="488.58" r="1.5" fill="#B3B3B3"/>
<circle cx="244.12" cy="501.61" r="1.5" fill="#B3B3B3"/>
<circle cx="233.84" cy="513.27" r="1.5" fill="#B3B3B3"/>
<circle cx="221.67" cy="523.25" r="1.5" fill="#B3B3B3"/>
<circle cx="207.94" cy="531.29" r="1.5" fill="#B3B3B3"/>
<circle cx="192.98" cy="537.19" r="1.5" fill="#B3B3B3"/>
<circle cx="177.20" cy="540.79" r="1.5" fill="#B3B3B3"/>
<circle cx="161.00" cy="542.00" r="1.5" fill="#B3B3B3"/>
<circle cx="144.80" cy="540.79" r="1.5" fill="#B3B3B3"/>
<circle cx="129.02" cy="537.19" r="1.5" fill="#B3B3B3"/>
<circle cx="114.06" cy="531.29" r="1.5" fill="#B3B3B3"/>
<circle cx="100.33" cy="523.25" r="1.5" fill="#B3B3B3"/>
<circle cx="88.16" cy="513.27" r="1.5" fill="#B3B3B3"/>
<circle cx="77.88" cy="501.61" r="1.5" fill="#B3B3B3"/>
<circle cx="69.75" cy="488.58" r="1.5" fill="#B3B3B3"/>
<circle cx="63.99" cy="474.51" r="1.5" fill="#B3B3B3"/>
<circle cx="60.74" cy="459.77" r="1.5" fill="#B3B3B3"/>
<circle cx="60.08" cy="444.74" r="1.5" fill="#B3B3B3"/>
<circle cx="62.04" cy="429.80" r="1.5" fill="#B3B3B3"/>
<circle cx="66.56" cy="415.34" r="1.5" fill="#B3B3B3"/>
<circle cx="73.53" cy="401.75" r="1.5" fill="#B3B3B3"/>
<circle cx="82.76" cy="389.37" r="1.5" fill="#B3B3B3"/>
<circle cx="94.02" cy="378.51" r="1.5" fill="#B3B3B3"/>
<circle cx="107.02" cy="369.47" r="1.5" fill="#B3B3B3"/>
<circle cx="121.41" cy="362.48" r="1.5" fill="#B3B3B3"/>
<circle cx="136.83" cy="357.72" r="1.5" fill="#B3B3B3"/>
<circle cx="152.87" cy="355.30" r="1.5" fill="#B3B3B3"/>
<text x="193.25" y="353.74" font-size="5.7" text-anchor="middle" fill="#fff" stroke="#fff" stroke-width="1.4" stroke-linejoin="round">Biosynthesis of cofactors</text>
<text x="228.30" y="360.44" font-size="5.7" text-anchor="middle" fill="#fff" stroke="#fff" stroke-width="1.4" stroke-linejoin="round">Glycerophospholipid metabolism</text>
<text x="204.80" y="368.74" font-size="5.7" text-anchor="middle" fill="#fff" stroke="#fff" stroke-width="1.4" stroke-linejoin="round">Inositol phosphate metabolism</text>
<text x="219.40" y="374.84" font-size="5.7" text-anchor="middle" fill="#fff" stroke="#fff" stroke-width="1.4" stroke-linejoin="round">Phosphatidylinositol signaling system</text>
<text x="232.60" y="385.04" font-size="5.7" text-anchor="middle" fill="#fff" stroke="#fff" stroke-width="1.4" stroke-linejoin="round">Carbon metabolism</text>
<text x="243.30" y="395.54" font-size="5.7" text-anchor="middle" fill="#fff" stroke="#fff" stroke-width="1.4" stroke-linejoin="round">NADSYN1</text>
<text x="258.15" y="402.74" font-size="5.7" text-anchor="middle" fill="#fff" stroke="#fff" stroke-width="1.4" stroke-linejoin="round">KYNU</text>
<text x="259.60" y="413.54" font-size="5.7" text-anchor="middle" fill="#fff" stroke="#fff" stroke-width="1.4" stroke-linejoin="round">ALPI</text>
<text x="252.00" y="436.14" font-size="5.7" text-anchor="middle" fill="#fff" stroke="#fff" stroke-width="1.4" stroke-linejoin="round">LIAS</text>
<text x="262.15" y="442.84" font-size="5.7" text-anchor="middle" fill="#fff" stroke="#fff" stroke-width="1.4" stroke-linejoin="round">PMM1</text>
<text x="253.80" y="465.74" font-size="5.7" text-anchor="middle" fill="#fff" stroke="#fff" stroke-width="1.4" stroke-linejoin="round">AK2</text>
<text x="262.25" y="472.84" font-size="5.7" text-anchor="middle" fill="#fff" stroke="#fff" stroke-width="1.4" stroke-linejoin="round">LIPT1</text>
<text x="256.40" y="486.34" font-size="5.7" text-anchor="middle" fill="#fff" stroke="#fff" stroke-width="1.4" stroke-linejoin="round">COQ3</text>
<text x="243.25" y="504.74" font-size="5.7" text-anchor="middle" fill="#fff" stroke="#fff" stroke-width="1.4" stroke-linejoin="round">EARS2</text>
<text x="238.00" y="511.34" font-size="5.7" text-anchor="middle" fill="#fff" stroke="#fff" stroke-width="1.4" stroke-linejoin="round">PANK2</text>
<text x="225.95" y="521.64" font-size="5.7" text-anchor="middle" fill="#fff" stroke="#fff" stroke-width="1.4" stroke-linejoin="round">ADSL</text>
<text x="211.40" y="529.84" font-size="5.7" text-anchor="middle" fill="#fff" stroke="#fff" stroke-width="1.4" stroke-linejoin="round">GPD1</text>
<text x="202.80" y="537.74" font-size="5.7" text-anchor="middle" fill="#fff" stroke="#fff" stroke-width="1.4" stroke-linejoin="round">LPIN1</text>
<text x="182.00" y="545.84" font-size="5.7" text-anchor="middle" fill="#fff" stroke="#fff" stroke-width="1.4" stroke-linejoin="round">PLA2G2F</text>
<text x="160.50" y="548.04" font-size="5.7" text-anchor="middle" fill="#fff" stroke="#fff" stroke-width="1.4" stroke-linejoin="round">CHAT</text>
<text x="137.60" y="546.54" font-size="5.7" text-anchor="middle" fill="#fff" stroke="#fff" stroke-width="1.4" stroke-linejoin="round">PLA2G4F</text>
<text x="116.85" y="537.24" font-size="5.7" text-anchor="middle" fill="#fff" stroke="#fff" stroke-width="1.4" stroke-linejoin="round">PLA2G6</text>
<text x="109.85" y="530.14" font-size="5.7" text-anchor="middle" fill="#fff" stroke="#fff" stroke-width="1.4" stroke-linejoin="round">PCYT1A</text>
<text x="96.35" y="521.34" font-size="5.7" text-anchor="middle" fill="#fff" stroke="#fff" stroke-width="1.4" stroke-linejoin="round">AGPAT4</text>
<text x="83.80" y="511.54" font-size="5.7" text-anchor="middle" fill="#fff" stroke="#fff" stroke-width="1.4" stroke-linejoin="round">CDS2</text>
<text x="69.15" y="504.44" font-size="5.7" text-anchor="middle" fill="#fff" stroke="#fff" stroke-width="1.4" stroke-linejoin="round">IPMK</text>
<text x="79.90" y="487.94" font-size="5.7" text-anchor="middle" fill="#fff" stroke="#fff" stroke-width="1.4" stroke-linejoin="round">PI4KB</text>
<text x="61.10" y="480.94" font-size="5.7" text-anchor="middle" fill="#fff" stroke="#fff" stroke-width="1.4" stroke-linejoin="round">PLCH2</text>
<text x="58.45" y="465.64" font-size="5.7" text-anchor="middle" fill="#fff" stroke="#fff" stroke-width="1.4" stroke-linejoin="round">IPPK</text>
<text x="64.55" y="442.94" font-size="5.7" text-anchor="middle" fill="#fff" stroke="#fff" stroke-width="1.4" stroke-linejoin="round">MTMR2</text>
<text x="75.90" y="428.64" font-size="5.7" text-anchor="middle" fill="#fff" stroke="#fff" stroke-width="1.4" stroke-linejoin="round">PIK3C2B</text>
<text x="62.65" y="421.44" font-size="5.7" text-anchor="middle" fill="#fff" stroke="#fff" stroke-width="1.4" stroke-linejoin="round">PTEN</text>
<text x="69.45" y="407.84" font-size="5.7" text-anchor="middle" fill="#fff" stroke="#fff" stroke-width="1.4" stroke-linejoin="round">ALDOA</text>
<text x="78.65" y="395.24" font-size="5.7" text-anchor="middle" fill="#fff" stroke="#fff" stroke-width="1.4" stroke-linejoin="round">PGP</text>
<text x="90.10" y="384.54" font-size="5.7" text-anchor="middle" fill="#fff" stroke="#fff" stroke-width="1.4" stroke-linejoin="round">OGDH</text>
<text x="103.00" y="375.64" font-size="5.7" text-anchor="middle" fill="#fff" stroke="#fff" stroke-width="1.4" stroke-linejoin="round">PGAM2</text>
<text x="117.00" y="368.64" font-size="5.7" text-anchor="middle" fill="#fff" stroke="#fff" stroke-width="1.4" stroke-linejoin="round">ME1</text>
<text x="132.80" y="356.34" font-size="5.7" text-anchor="middle" fill="#fff" stroke="#fff" stroke-width="1.4" stroke-linejoin="round">PDHB</text>
<text x="151.00" y="353.74" font-size="5.7" text-anchor="middle" fill="#fff" stroke="#fff" stroke-width="1.4" stroke-linejoin="round">ACO1</text>
<text x="193.25" y="353.74" font-size="5.7" text-anchor="middle" fill="#111" stroke="#111" stroke-width="0.1">Biosynthesis of cofactors</text>
<text x="228.30" y="360.44" font-size="5.7" text-anchor="middle" fill="#111" stroke="#111" stroke-width="0.1">Glycerophospholipid metabolism</text>
<text x="204.80" y="368.74" font-size="5.7" text-anchor="middle" fill="#111" stroke="#111" stroke-width="0.1">Inositol phosphate metabolism</text>
<text x="219.40" y="374.84" font-size="5.7" text-anchor="middle" fill="#111" stroke="#111" stroke-width="0.1">Phosphatidylinositol signaling system</text>
<text x="232.60" y="385.04" font-size="5.7" text-anchor="middle" fill="#111" stroke="#111" stroke-width="0.1">Carbon metabolism</text>
<text x="243.30" y="395.54" font-size="5.7" text-anchor="middle" fill="#111" stroke="#111" stroke-width="0.1">NADSYN1</text>
<text x="258.15" y="402.74" font-size="5.7" text-anchor="middle" fill="#111" stroke="#111" stroke-width="0.1">KYNU</text>
<text x="259.60" y="413.54" font-size="5.7" text-anchor="middle" fill="#111" stroke="#111" stroke-width="0.1">ALPI</text>
<text x="252.00" y="436.14" font-size="5.7" text-anchor="middle" fill="#111" stroke="#111" stroke-width="0.1">LIAS</text>
<text x="262.15" y="442.84" font-size="5.7" text-anchor="middle" fill="#111" stroke="#111" stroke-width="0.1">PMM1</text>
<text x="253.80" y="465.74" font-size="5.7" text-anchor="middle" fill="#111" stroke="#111" stroke-width="0.1">AK2</text>
<text x="262.25" y="472.84" font-size="5.7" text-anchor="middle" fill="#111" stroke="#111" stroke-width="0.1">LIPT1</text>
<text x="256.40" y="486.34" font-size="5.7" text-anchor="middle" fill="#111" stroke="#111" stroke-width="0.1">COQ3</text>
<text x="243.25" y="504.74" font-size="5.7" text-anchor="middle" fill="#111" stroke="#111" stroke-width="0.1">EARS2</text>
<text x="238.00" y="511.34" font-size="5.7" text-anchor="middle" fill="#111" stroke="#111" stroke-width="0.1">PANK2</text>
<text x="225.95" y="521.64" font-size="5.7" text-anchor="middle" fill="#111" stroke="#111" stroke-width="0.1">ADSL</text>
<text x="211.40" y="529.84" font-size="5.7" text-anchor="middle" fill="#111" stroke="#111" stroke-width="0.1">GPD1</text>
<text x="202.80" y="537.74" font-size="5.7" text-anchor="middle" fill="#111" stroke="#111" stroke-width="0.1">LPIN1</text>
<text x="182.00" y="545.84" font-size="5.7" text-anchor="middle" fill="#111" stroke="#111" stroke-width="0.1">PLA2G2F</text>
<text x="160.50" y="548.04" font-size="5.7" text-anchor="middle" fill="#111" stroke="#111" stroke-width="0.1">CHAT</text>
<text x="137.60" y="546.54" font-size="5.7" text-anchor="middle" fill="#111" stroke="#111" stroke-width="0.1">PLA2G4F</text>
<text x="116.85" y="537.24" font-size="5.7" text-anchor="middle" fill="#111" stroke="#111" stroke-width="0.1">PLA2G6</text>
<text x="109.85" y="530.14" font-size="5.7" text-anchor="middle" fill="#111" stroke="#111" stroke-width="0.1">PCYT1A</text>
<text x="96.35" y="521.34" font-size="5.7" text-anchor="middle" fill="#111" stroke="#111" stroke-width="0.1">AGPAT4</text>
<text x="83.80" y="511.54" font-size="5.7" text-anchor="middle" fill="#111" stroke="#111" stroke-width="0.1">CDS2</text>
<text x="69.15" y="504.44" font-size="5.7" text-anchor="middle" fill="#111" stroke="#111" stroke-width="0.1">IPMK</text>
<text x="79.90" y="487.94" font-size="5.7" text-anchor="middle" fill="#111" stroke="#111" stroke-width="0.1">PI4KB</text>
<text x="61.10" y="480.94" font-size="5.7" text-anchor="middle" fill="#111" stroke="#111" stroke-width="0.1">PLCH2</text>
<text x="58.45" y="465.64" font-size="5.7" text-anchor="middle" fill="#111" stroke="#111" stroke-width="0.1">IPPK</text>
<text x="64.55" y="442.94" font-size="5.7" text-anchor="middle" fill="#111" stroke="#111" stroke-width="0.1">MTMR2</text>
<text x="75.90" y="428.64" font-size="5.7" text-anchor="middle" fill="#111" stroke="#111" stroke-width="0.1">PIK3C2B</text>
<text x="62.65" y="421.44" font-size="5.7" text-anchor="middle" fill="#111" stroke="#111" stroke-width="0.1">PTEN</text>
<text x="69.45" y="407.84" font-size="5.7" text-anchor="middle" fill="#111" stroke="#111" stroke-width="0.1">ALDOA</text>
<text x="78.65" y="395.24" font-size="5.7" text-anchor="middle" fill="#111" stroke="#111" stroke-width="0.1">PGP</text>
<text x="90.10" y="384.54" font-size="5.7" text-anchor="middle" fill="#111" stroke="#111" stroke-width="0.1">OGDH</text>
<text x="103.00" y="375.64" font-size="5.7" text-anchor="middle" fill="#111" stroke="#111" stroke-width="0.1">PGAM2</text>
<text x="117.00" y="368.64" font-size="5.7" text-anchor="middle" fill="#111" stroke="#111" stroke-width="0.1">ME1</text>
<text x="132.80" y="356.34" font-size="5.7" text-anchor="middle" fill="#111" stroke="#111" stroke-width="0.1">PDHB</text>
<text x="151.00" y="353.74" font-size="5.7" text-anchor="middle" fill="#111" stroke="#111" stroke-width="0.1">ACO1</text>
<text x="274.00" y="407.60" font-size="4.7" text-anchor="start" fill="#000">category</text>
<line x1="274.7" y1="413.4" x2="280.9" y2="413.4" stroke="#F8766D" stroke-width="0.9"/>
<text x="283.40" y="414.70" font-size="3.7" text-anchor="start" fill="#222">Biosynthesis of cofactors</text>
<line x1="274.7" y1="420.6" x2="280.9" y2="420.6" stroke="#A3A500" stroke-width="0.9"/>
<text x="283.40" y="421.90" font-size="3.7" text-anchor="start" fill="#222">Carbon metabolism</text>
<line x1="274.7" y1="427.7" x2="280.9" y2="427.7" stroke="#00BF7D" stroke-width="0.9"/>
<text x="283.40" y="429.00" font-size="3.7" text-anchor="start" fill="#222">Glycerophospholipid metabolism</text>
<line x1="274.7" y1="434.6" x2="280.9" y2="434.6" stroke="#00B0F6" stroke-width="0.9"/>
<text x="283.40" y="435.90" font-size="3.7" text-anchor="start" fill="#222">Inositol phosphate metabolism</text>
<line x1="274.7" y1="441.8" x2="280.9" y2="441.8" stroke="#E76BF3" stroke-width="0.9"/>
<text x="283.40" y="443.10" font-size="3.7" text-anchor="start" fill="#222">Phosphatidylinositol signaling system</text>
<text x="274.00" y="451.50" font-size="4.7" text-anchor="start" fill="#000">size</text>
<circle cx="278.6" cy="457.7" r="1.25" fill="#000"/>
<text x="285.50" y="459.00" font-size="3.7" text-anchor="start" fill="#1a1a1a">3</text>
<circle cx="278.6" cy="464.6" r="2.2" fill="#000"/>
<text x="285.50" y="465.90" font-size="3.7" text-anchor="start" fill="#1a1a1a">5</text>
<circle cx="278.6" cy="472.2" r="2.65" fill="#000"/>
<text x="285.50" y="473.50" font-size="3.7" text-anchor="start" fill="#1a1a1a">7</text>
<circle cx="278.6" cy="480.7" r="3.1" fill="#000"/>
<text x="285.50" y="482.00" font-size="3.7" text-anchor="start" fill="#1a1a1a">9</text>
<circle cx="278.6" cy="489.6" r="3.7" fill="#000"/>
<text x="285.50" y="490.90" font-size="3.7" text-anchor="start" fill="#1a1a1a">11</text>
</svg></body></html>
